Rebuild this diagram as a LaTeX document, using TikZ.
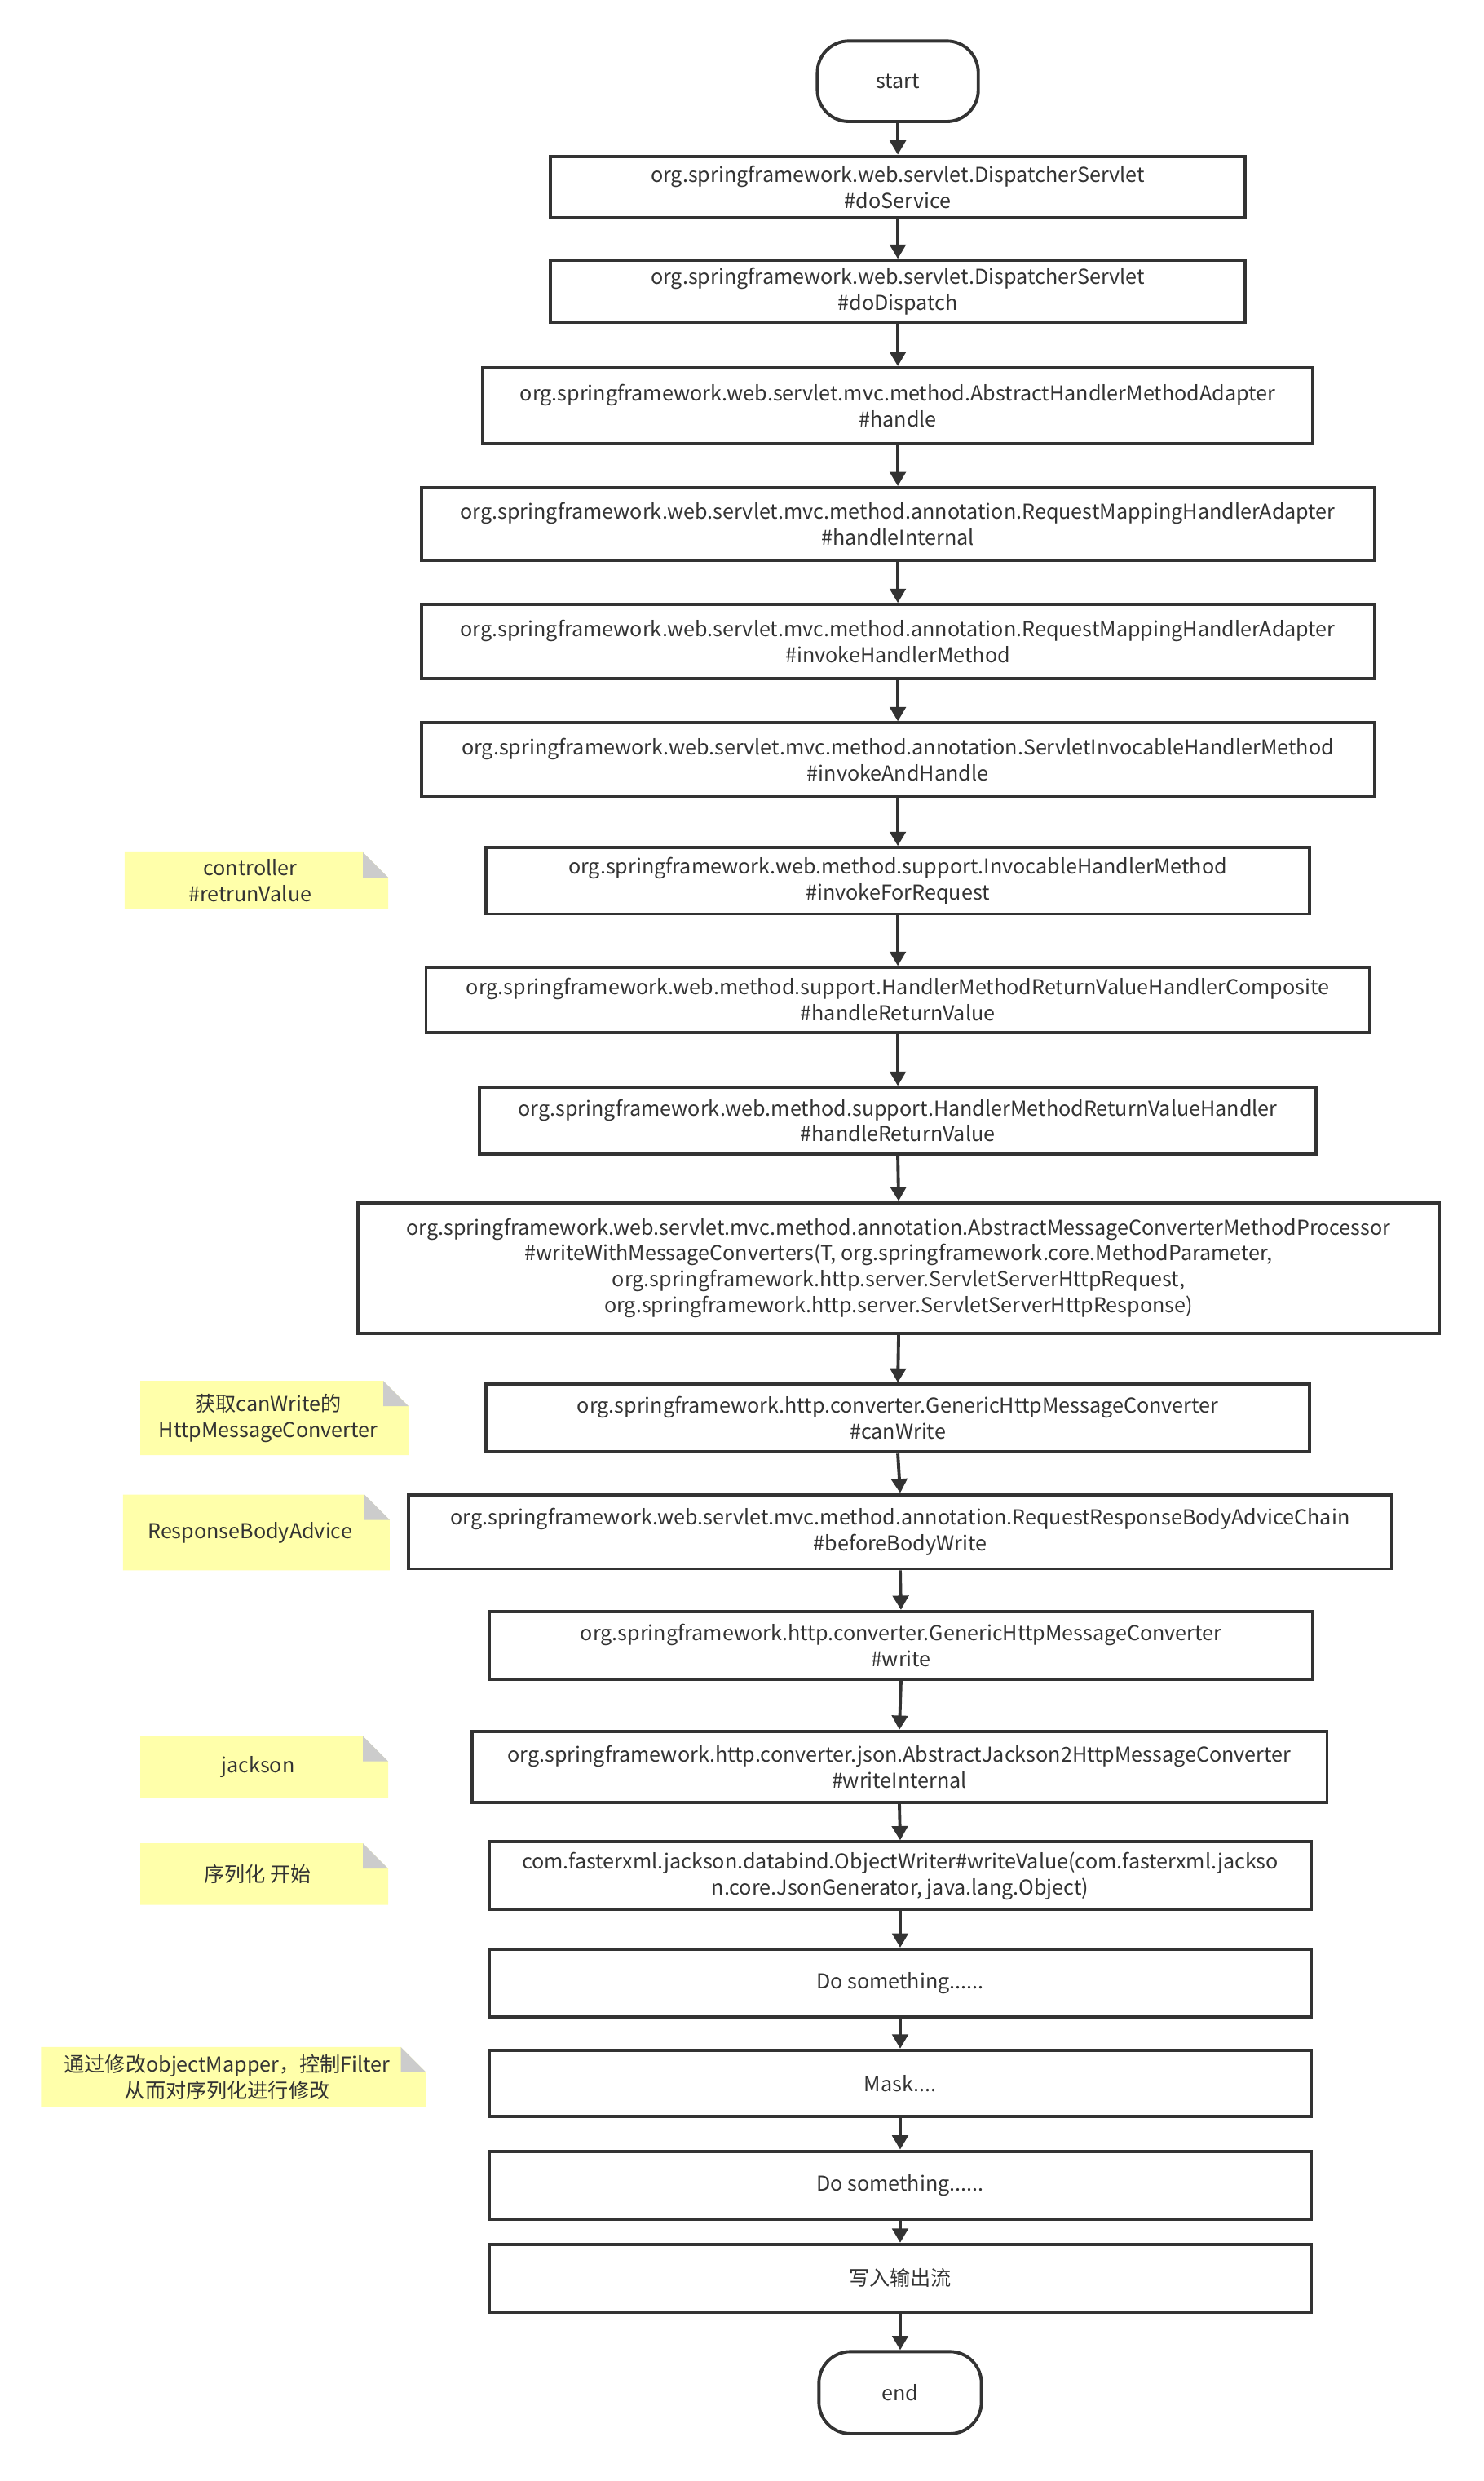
\documentclass[tikz,border=0pt]{standalone}
\usepackage{fontspec}
\setmainfont{Noto Sans CJK SC}
\usetikzlibrary{arrows.meta}
\definecolor{tx}{HTML}{333333}
\definecolor{ny}{HTML}{FFFFAA}
\definecolor{ng}{HTML}{CCCCCC}
\tikzset{
 box/.style={draw=tx,line width=2pt,fill=white,text=tx,align=center,font=\fontsize{13}{16.5}\selectfont,inner sep=0pt},
 term/.style={box,rounded corners=20pt},
 arr/.style={draw=tx,line width=2pt,-{Triangle[length=9pt,width=10pt]}},
 notetext/.style={text=tx,align=center,font=\fontsize{13}{16.5}\selectfont}
}
\newcommand{\bx}[7]{\node[#1,minimum width={#4-#3},minimum height={#6-#5}] (#2) at ({(#3+#4)/2},{(#5+#6)/2}) {#7};}
\newcommand{\nt}[6]{\fill[ny] (#2,#3)--({#4-16},#3)--(#4,{#3+16})--(#4,#5)--(#2,#5)--cycle;
 \fill[ng] ({#4-16},#3)--(#4,{#3+16})--({#4-16},{#3+16})--cycle;
 \node[notetext] (#1) at ({(#2+#4)/2-4},{(#3+#5)/2}) {#6};}
\begin{document}
\begin{tikzpicture}[x=1pt,y=-1pt]
\useasboundingbox[fill=white] (0,0) rectangle (940,1572);
\bx{term}{s}{518}{620}{26}{77}{start}
\bx{box}{b1}{349}{789}{99}{138}{org.springframework.web.servlet.DispatcherServlet\\\#doService}
\bx{box}{b2}{349}{789}{165}{204}{org.springframework.web.servlet.DispatcherServlet\\\#doDispatch}
\bx{box}{b3}{306}{832}{233}{281}{org.springframework.web.servlet.mvc.method.AbstractHandlerMethodAdapter\\\#handle}
\bx{box}{b4}{267}{871}{309}{355}{org.springframework.web.servlet.mvc.method.annotation.RequestMappingHandlerAdapter\\\#handleInternal}
\bx{box}{b5}{267}{871}{383}{430}{org.springframework.web.servlet.mvc.method.annotation.RequestMappingHandlerAdapter\\\#invokeHandlerMethod}
\bx{box}{b6}{267}{871}{458}{505}{org.springframework.web.servlet.mvc.method.annotation.ServletInvocableHandlerMethod\\\#invokeAndHandle}
\bx{box}{b7}{308}{830}{537}{579}{org.springframework.web.method.support.InvocableHandlerMethod\\\#invokeForRequest}
\bx{box}{b8}{270}{868}{613}{654}{org.springframework.web.method.support.HandlerMethodReturnValueHandlerComposite\\\#handleReturnValue}
\bx{box}{b9}{304}{834}{689}{731}{org.springframework.web.method.support.HandlerMethodReturnValueHandler\\\#handleReturnValue}
\bx{box}{b10}{227}{912}{762}{845}{org.springframework.web.servlet.mvc.method.annotation.AbstractMessageConverterMethodProcessor\\\#writeWithMessageConverters(T, org.springframework.core.MethodParameter,\\org.springframework.http.server.ServletServerHttpRequest,\\org.springframework.http.server.ServletServerHttpResponse)}
\bx{box}{b11}{308}{830}{877}{920}{org.springframework.http.converter.GenericHttpMessageConverter\\\#canWrite}
\bx{box}{b12}{259}{882}{947}{994}{org.springframework.web.servlet.mvc.method.annotation.RequestResponseBodyAdviceChain\\\#beforeBodyWrite}
\bx{box}{b13}{310}{832}{1021}{1064}{org.springframework.http.converter.GenericHttpMessageConverter\\\#write}
\bx{box}{b14}{299}{841}{1097}{1142}{org.springframework.http.converter.json.AbstractJackson2HttpMessageConverter\\\#writeInternal}
\bx{box}{b15}{310}{831}{1167}{1210}{com.fasterxml.jackson.databind.ObjectWriter\#writeValue(com.fasterxml.jackso\\n.core.JsonGenerator, java.lang.Object)}
\bx{box}{b16}{310}{831}{1235}{1278}{Do something......}
\bx{box}{b17}{310}{831}{1299}{1341}{Mask....}
\bx{box}{b18}{310}{831}{1363}{1406}{Do something......}
\bx{box}{b19}{310}{831}{1422}{1465}{写入输出流}
\bx{term}{e}{519}{622}{1490}{1542}{end}
\foreach \a/\b in {s/b1,b1/b2,b2/b3,b3/b4,b4/b5,b5/b6,b6/b7,b7/b8,b8/b9,b9/b10,b10/b11,b11/b12,b12/b13,b13/b14,b14/b15,b15/b16,b16/b17,b17/b18,b18/b19,b19/e}
 \draw[arr] (\a.south) -- (\b.north);
\nt{n1}{79}{540}{246}{576}{controller\\\#retrunValue}
\nt{n2}{89}{875}{259}{922}{获取canWrite的\\HttpMessageConverter}
\nt{n3}{78}{947}{247}{995}{ResponseBodyAdvice}
\nt{n4}{89}{1100}{246}{1139}{jackson}
\nt{n5}{89}{1168}{246}{1207}{序列化 开始}
\nt{n6}{26}{1297}{270}{1335}{通过修改objectMapper，控制Filter\\从而对序列化进行修改}
\end{tikzpicture}
\end{document}
